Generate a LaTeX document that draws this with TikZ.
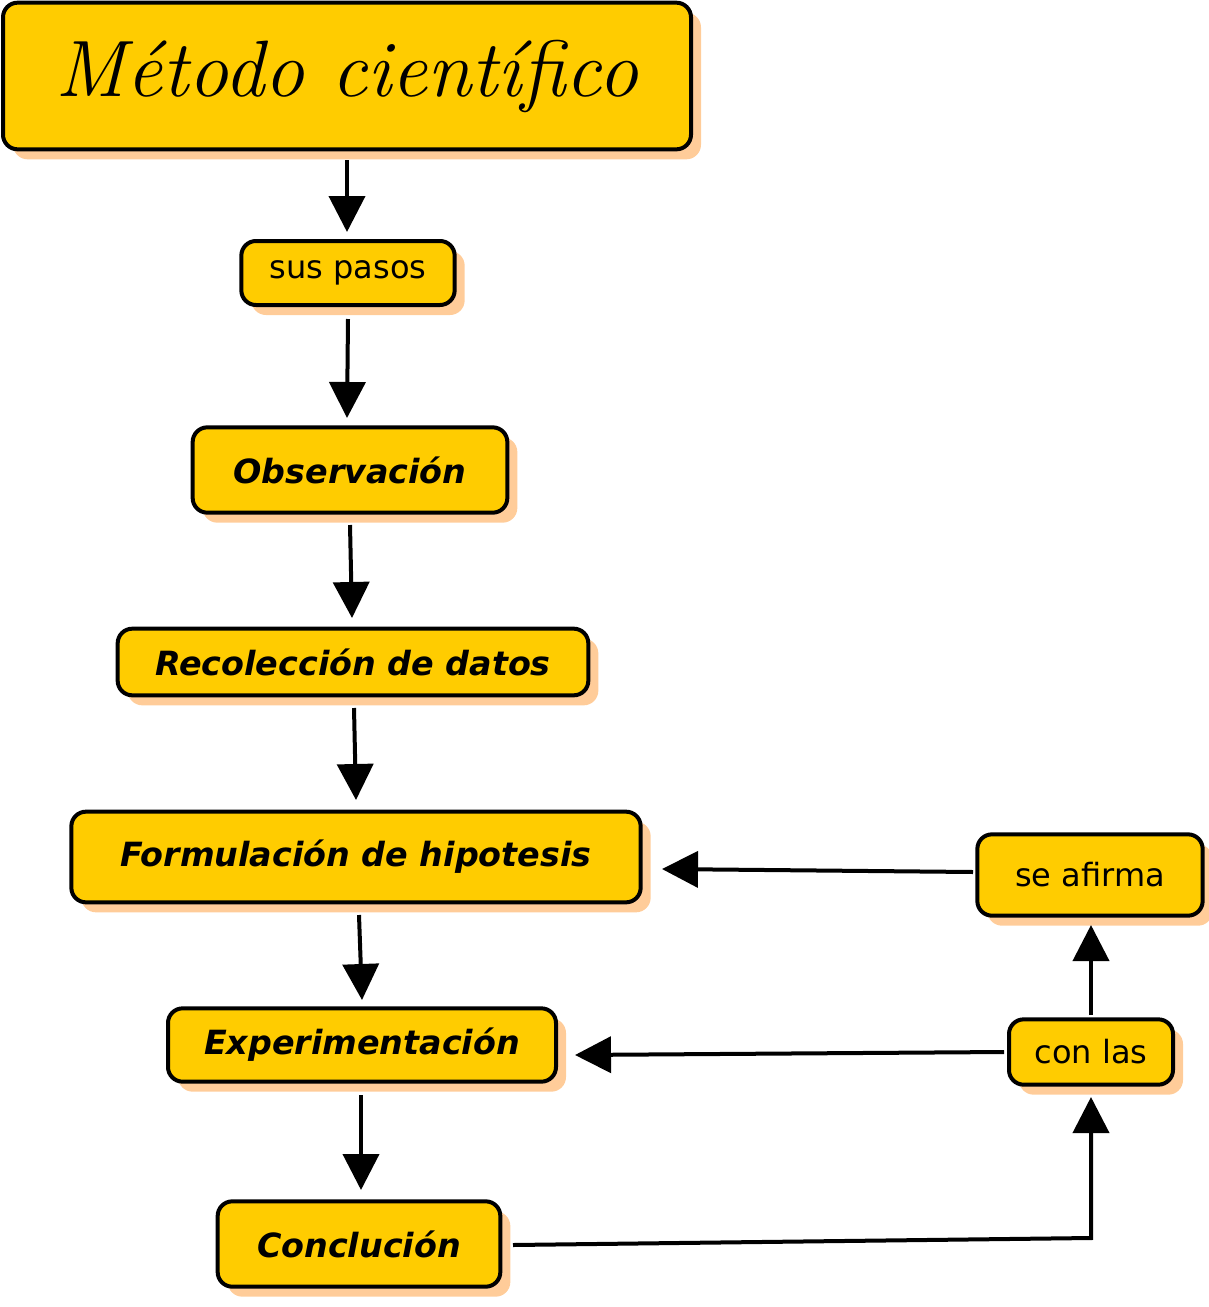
\documentclass[tikz,border=0pt]{standalone}
\usepackage{fontspec}
\setmainfont{DejaVu Sans}
\newfontfamily\titlefont{Latin Modern Roman}
\usetikzlibrary{shadows,arrows.meta}
\definecolor{boxy}{HTML}{FFCC00}
\definecolor{peach}{HTML}{FFCC99}
\begin{document}
\begin{tikzpicture}[x=0.75pt,y=-0.75pt,
  box/.style={draw=black,line width=3pt,fill=boxy,rounded corners=11pt,inner sep=0pt,
    drop shadow={shadow xshift=7.5pt,shadow yshift=-7.5pt,fill=peach,opacity=1}},
  lab/.style={font=\fontsize{25}{30}\selectfont\bfseries\itshape},
  plain/.style={font=\fontsize{24}{28}\selectfont},
  arr/.style={line width=3pt,-{Triangle[length=27pt,width=27pt]}}]
\useasboundingbox (0,0) rectangle (1209,1307);
\node[box,minimum width=516pt,minimum height=110pt,font=\titlefont\fontsize{60}{64}\selectfont\itshape] (t) at (347,76) {Método científico};
\node[box,plain,minimum width=160pt,minimum height=48pt] (s) at (348,273) {sus pasos};
\node[box,lab,minimum width=236pt,minimum height=64pt] (o) at (350,470) {Observación};
\node[box,lab,minimum width=353pt,minimum height=50pt] (r) at (353,662) {Recolección de datos};
\node[box,lab,minimum width=427pt,minimum height=68pt] (f) at (356,857) {Formulación de hipotesis};
\node[box,lab,minimum width=291pt,minimum height=55pt] (e) at (362,1045) {Experimentación};
\node[box,lab,minimum width=212pt,minimum height=64pt] (c) at (359,1244) {Conclución};
\node[box,plain,minimum width=169pt,minimum height=61pt] (a) at (1090,875) {se afirma};
\node[box,plain,minimum width=123pt,minimum height=49pt] (l) at (1091,1052) {con las};
\draw[arr] (347,160) -- (347,232);
\draw[arr] (s.south) ++(0,12) -- (347,418);
\draw[arr] (350,525) -- (352,618);
\draw[arr] (354,708) -- (356,800);
\draw[arr] (359,915) -- (362,1000);
\draw[arr] (361,1095) -- (361,1190);
\coordinate (k) at (1091,1238);
\draw[arr] (513,1245) -- (k) -- (1091,1097);
\draw[arr] (1091,1015) -- (1091,925);
\draw[arr] (1004,1052) -- (575,1055);
\draw[arr] (973,872) -- (662,869);
\end{tikzpicture}
\end{document}
